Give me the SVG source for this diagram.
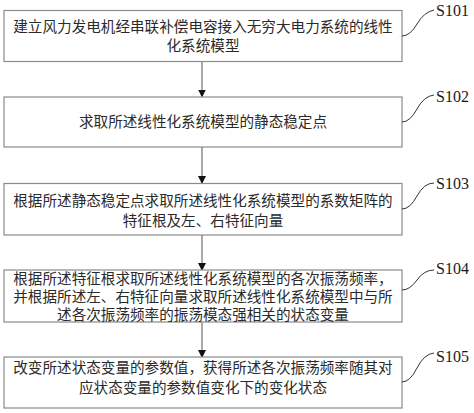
<svg xmlns="http://www.w3.org/2000/svg" width="474" height="413" viewBox="0 0 474 413">
<defs>
<style>
.box{fill:#fff;stroke:#8a8a8a;stroke-width:1.2}
.t{font-family:"Liberation Serif","Noto Sans CJK SC",serif;font-size:14.6px;fill:#2a2a2a;text-anchor:middle}
.lbl{font-family:"Liberation Serif",serif;font-size:16px;fill:#1a1a1a}
.cv{fill:none;stroke:#333;stroke-width:1}
.ar{stroke:#555;stroke-width:1;fill:none}
</style>
<marker id="ah" markerWidth="8" markerHeight="8" refX="7" refY="4" orient="auto" markerUnits="userSpaceOnUse">
<path d="M0,0 L8,4 L0,8 z" fill="#111"/>
</marker>
</defs>
<rect width="474" height="413" fill="#fff"/>
<g id="connectors">
<line class="ar" x1="202" y1="62" x2="202" y2="96.5" marker-end="url(#ah)"/>
<line class="ar" x1="202" y1="147" x2="202" y2="183" marker-end="url(#ah)"/>
<line class="ar" x1="202" y1="235" x2="202" y2="270" marker-end="url(#ah)"/>
<line class="ar" x1="202" y1="322" x2="202" y2="357" marker-end="url(#ah)"/>
</g>
<g id="S101">
<rect class="box" x="4" y="10.5" width="398" height="51"/>
<text class="t" x="203" y="32">建立风力发电机经串联补偿电容接入无穷大电力系统的线性</text>
<text class="t" x="203" y="51">化系统模型</text>
<path class="cv" d="M402,36 Q410,36 417,24 T434,10"/>
<text class="lbl" x="436" y="15.5">S101</text>
</g>
<g id="S102">
<rect class="box" x="4" y="97" width="398" height="50"/>
<text class="t" x="203" y="127">求取所述线性化系统模型的静态稳定点</text>
<path class="cv" d="M402,122 Q410,122 417,109 T434,95"/>
<text class="lbl" x="436" y="102">S102</text>
</g>
<g id="S103">
<rect class="box" x="4" y="183.5" width="398" height="51.5"/>
<text class="t" x="203" y="206">根据所述静态稳定点求取所述线性化系统模型的系数矩阵的</text>
<text class="t" x="203" y="226">特征根及左、右特征向量</text>
<path class="cv" d="M402,209 Q410,209 417,196 T434,183"/>
<text class="lbl" x="436" y="188.5">S103</text>
</g>
<g id="S104">
<rect class="box" x="4" y="270" width="398" height="52"/>
<text class="t" x="203" y="284">根据所述特征根求取所述线性化系统模型的各次振荡频率，</text>
<text class="t" x="203" y="302">并根据所述左、右特征向量求取所述线性化系统模型中与所</text>
<text class="t" x="203" y="319.5">述各次振荡频率的振荡模态强相关的状态变量</text>
<path class="cv" d="M402,290 Q410,290 417,280 T434,270"/>
<text class="lbl" x="436" y="273.5">S104</text>
</g>
<g id="S105">
<rect class="box" x="4" y="357" width="398" height="51"/>
<text class="t" x="203" y="373">改变所述状态变量的参数值，获得所述各次振荡频率随其对</text>
<text class="t" x="203" y="393">应状态变量的参数值变化下的变化状态</text>
<path class="cv" d="M402,382 Q410,382 417,368 T434,353"/>
<text class="lbl" x="436" y="362">S105</text>
</g>
</svg>
